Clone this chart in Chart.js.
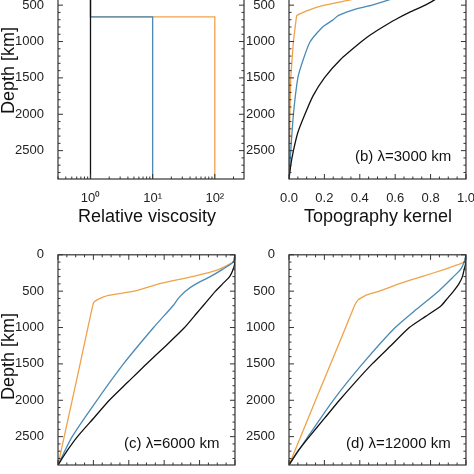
<!DOCTYPE html>
<html><head><meta charset="utf-8">
<script src="https://cdn.jsdelivr.net/npm/chart.js@4"></script>
<style>
body{margin:0;width:474px;height:474px;overflow:hidden;background:#fff;position:relative;font-family:"Liberation Sans",Arial,sans-serif}
.c{position:absolute}
.t{position:absolute;color:#111;white-space:nowrap}
</style></head><body>
<div class="c" style="left:0;top:-45px;width:248px;height:284px"><canvas id="a"></canvas></div>
<div class="c" style="left:231px;top:-45px;width:248px;height:284px"><canvas id="b"></canvas></div>
<div class="c" style="left:0;top:241px;width:248px;height:284px"><canvas id="c"></canvas></div>
<div class="c" style="left:231px;top:241px;width:248px;height:284px"><canvas id="d"></canvas></div>
<div class="t" style="left:-42px;top:60px;font-size:18px;transform:rotate(-90deg);width:100px;text-align:center">Depth [km]</div>
<div class="t" style="left:-42px;top:346px;font-size:18px;transform:rotate(-90deg);width:100px;text-align:center">Depth [km]</div>
<div class="t" style="left:58px;top:206px;width:178px;text-align:center;font-size:18px">Relative viscosity</div>
<div class="t" style="left:289px;top:206px;width:178px;text-align:center;font-size:18px">Topography kernel</div>
<div class="t" style="left:355px;top:147px;font-size:15px">(b) λ=3000 km</div>
<div class="t" style="left:124px;top:434px;font-size:15px">(c) λ=6000 km</div>
<div class="t" style="left:346px;top:434px;font-size:15px">(d) λ=12000 km</div>
<script>
// Panel (a) relative viscosity
const aDepth = [0, 660, 660, 2890];
const aBlack = [1, 1, 1, 1];
const aBlue = [1, 1, 10, 10];
const aOrange = [1, 1, 100, 100];
// Panel (b) λ=3000 km
const bDepthK = [0,100,250,400,500,600,700,800,900,1000,1250,1500,1750,2000,2250,2500,2700,2890];
const bBlack = [1.0,0.98,0.92,0.84,0.77,0.68,0.60,0.53,0.465,0.41,0.29,0.20,0.135,0.09,0.05,0.025,0.01,0];
const bDepthB = [0,200,400,500,550,640,700,800,1000,1250,1500,2000,2500,2890];
const bBlue = [1.0,0.85,0.6,0.47,0.38,0.28,0.25,0.19,0.12,0.08,0.05,0.025,0.01,0];
const bDepthO = [0,300,450,500,560,640,700,1000,1500,2000,2500,2890];
const bOrange = [1.0,0.6,0.3,0.2,0.12,0.045,0.04,0.025,0.01,0.005,0.003,0];
// Panel (c) λ=6000 km
const cDepthK = [0,100,200,300,400,500,600,700,800,1000,1250,1500,1750,2000,2250,2500,2700,2890];
const cBlack = [1.0,1.0,0.99,0.97,0.93,0.89,0.855,0.82,0.785,0.715,0.61,0.5,0.395,0.29,0.2,0.11,0.05,0];
const cDepthB = [0,100,200,300,400,500,600,700,1000,1500,2000,2500,2890];
const cBlue = [1.0,0.99,0.93,0.86,0.78,0.72,0.68,0.65,0.54,0.37,0.22,0.08,0];
const cDepthO = [0,100,200,300,400,500,560,620,660,1500,2500,2890];
const cOrange = [1.0,0.99,0.91,0.76,0.57,0.43,0.28,0.22,0.2,0.125,0.035,0];
// Panel (d) λ=12000 km
const dDepthK = [0,100,200,300,400,500,600,700,850,1000,1250,1500,1750,2000,2250,2500,2700,2890];
const dBlack = [1.0,1.0,0.99,0.98,0.96,0.93,0.895,0.86,0.77,0.68,0.575,0.47,0.375,0.285,0.2,0.115,0.05,0];
const dDepthB = [0,100,200,300,500,750,1000,1500,2000,2500,2890];
const dBlue = [1.0,0.99,0.97,0.93,0.845,0.72,0.6,0.415,0.25,0.107,0];
const dDepthO = [0,100,200,300,400,500,560,620,700,1000,2000,2890];
const dOrange = [1.0,0.99,0.88,0.75,0.62,0.51,0.43,0.39,0.37,0.32,0.15,0];
const yTicks = [0,500,1000,1500,2000,2500];
const kTicks = [0,0.2,0.4,0.6,0.8,1.0];
const logTicks = [1,10,100];
const supers = {1:'10⁰',10:'10¹',100:'10²'};

const BLACK='#111', BLUE='#4a8ab6', ORANGE='#f0a24a';
const pts=(d,v)=>d.map((y,i)=>({x:v[i],y}));
const ds=(d,v,col,t)=>({data:pts(d,v),borderColor:col,borderWidth:1.3,pointRadius:0,showLine:true,fill:false,tension:t});

const frame={id:'frame',afterDraw(ch){
  const {ctx,chartArea:a,scales}=ch;const x=scales.x,y=scales.y;
  ctx.save();ctx.strokeStyle='#333';ctx.lineWidth=1.2;
  ctx.strokeRect(a.left,a.top,a.right-a.left,a.bottom-a.top);
  ctx.lineWidth=1;
  const tick=(px,len,vert)=>{ if(vert){ctx.beginPath();ctx.moveTo(a.left,px);ctx.lineTo(a.left+len,px);ctx.moveTo(a.right,px);ctx.lineTo(a.right-len,px);ctx.stroke();}
    else{ctx.beginPath();ctx.moveTo(px,a.bottom);ctx.lineTo(px,a.bottom-len);ctx.moveTo(px,a.top);ctx.lineTo(px,a.top+len);ctx.stroke();}};
  for(let v=0;v<=2890;v+=100) tick(y.getPixelForValue(v),v%500===0?5:2.5,true);
  if(x.type==='logarithmic'){for(let e=-1;e<=2;e++)for(let m=1;m<10;m++){const v=m*Math.pow(10,e);if(v>=x.min&&v<=x.max)tick(x.getPixelForValue(v),m===1?5:2.5,false);}}
  else for(let i=0;i<=20;i++){const v=i*0.05;tick(x.getPixelForValue(v),i%4===0?5:2.5,false);}
  ctx.restore();}};

function make(id,datasets,log){
  const tf={family:'"Liberation Sans", Arial, sans-serif',size:13};
  new Chart(document.getElementById(id),{type:'scatter',data:{datasets},plugins:[frame],
   options:{responsive:true,maintainAspectRatio:false,animation:false,
    layout:{padding:{top:10,right:4,left:0,bottom:0}},
    plugins:{legend:{display:false},tooltip:{enabled:false}},
    scales:{
     x:log?{type:'logarithmic',min:0.3,max:295,afterBuildTicks:s=>{s.ticks=logTicks.map(v=>({value:v}));},
        ticks:{color:'#222',font:tf,padding:4,callback:v=>supers[v]||''},grid:{display:false},border:{display:false},afterFit:s=>{s.height=60;}}
      :{type:'linear',min:0,max:1,afterBuildTicks:s=>{s.ticks=kTicks.map(v=>({value:v}));},
        ticks:{color:'#222',font:tf,padding:4,callback:v=>v.toFixed(1)},grid:{display:false},border:{display:false},afterFit:s=>{s.height=60;}},
     y:{type:'linear',reverse:true,min:0,max:2890,afterBuildTicks:s=>{s.ticks=yTicks.map(v=>({value:v}));},
        ticks:{color:'#222',font:tf,padding:6,callback:v=>String(v)},grid:{display:false},border:{display:false},afterFit:s=>{s.width=58;}}
    }}});
}
make('a',[ds(aDepth,aBlack,BLACK,0),ds(aDepth,aBlue,BLUE,0),ds(aDepth,aOrange,ORANGE,0)],true);
make('b',[ds(bDepthK,bBlack,BLACK,0.2),ds(bDepthB,bBlue,BLUE,0.2),ds(bDepthO,bOrange,ORANGE,0.1)],false);
make('c',[ds(cDepthK,cBlack,BLACK,0.2),ds(cDepthB,cBlue,BLUE,0.2),ds(cDepthO,cOrange,ORANGE,0.1)],false);
make('d',[ds(dDepthK,dBlack,BLACK,0.2),ds(dDepthB,dBlue,BLUE,0.2),ds(dDepthO,dOrange,ORANGE,0.1)],false);
</script></body></html>
